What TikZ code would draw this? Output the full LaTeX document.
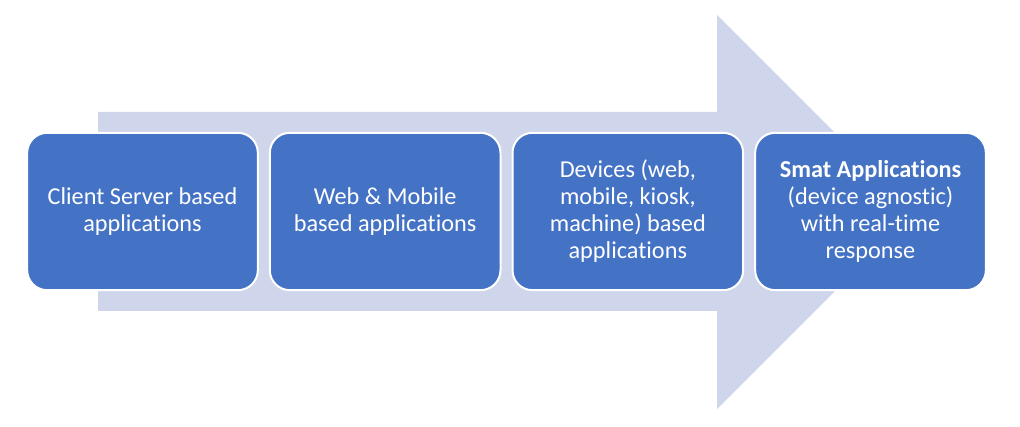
\documentclass[tikz,border=0pt]{standalone}
\usepackage{fontspec}
\setmainfont{Carlito}[Ligatures=NoCommon]
\usepackage{tikz}
\usetikzlibrary{positioning}
\definecolor{stageblue}{HTML}{4472C4}
\definecolor{arrowfill}{HTML}{CFD5EA}
\tikzset{
  stage/.style={rectangle,rounded corners=15pt,fill=stageblue,draw=white,line width=1.5pt,
    text=white,minimum width=173pt,minimum height=118pt,align=center,
    font=\fontsize{18.2}{20.25}\selectfont}
}

\begin{document}
\begin{tikzpicture}[x=0.75pt,y=0.75pt]
  \useasboundingbox (0,0) rectangle (1020,-427);
  % big arrow behind the stages
  \fill[arrowfill] (98,-112)--(717,-112)--(717,-15)--(914,-212)--(717,-409)--(717,-311)--(98,-311)--cycle;
  \node[stage] (client) at (142.5,-211.5) {Client Server based\\applications};
  \node[stage,right=7.5pt of client] (web) {Web \& Mobile\\based applications};
  \node[stage,right=7.5pt of web] (devices) {Devices (web,\\mobile, kiosk,\\machine) based\\applications};
  \node[stage,right=7.5pt of devices] (smart) {\textbf{Smat Applications}\\(device agnostic)\\with real-time\\response};
\end{tikzpicture}
\end{document}
